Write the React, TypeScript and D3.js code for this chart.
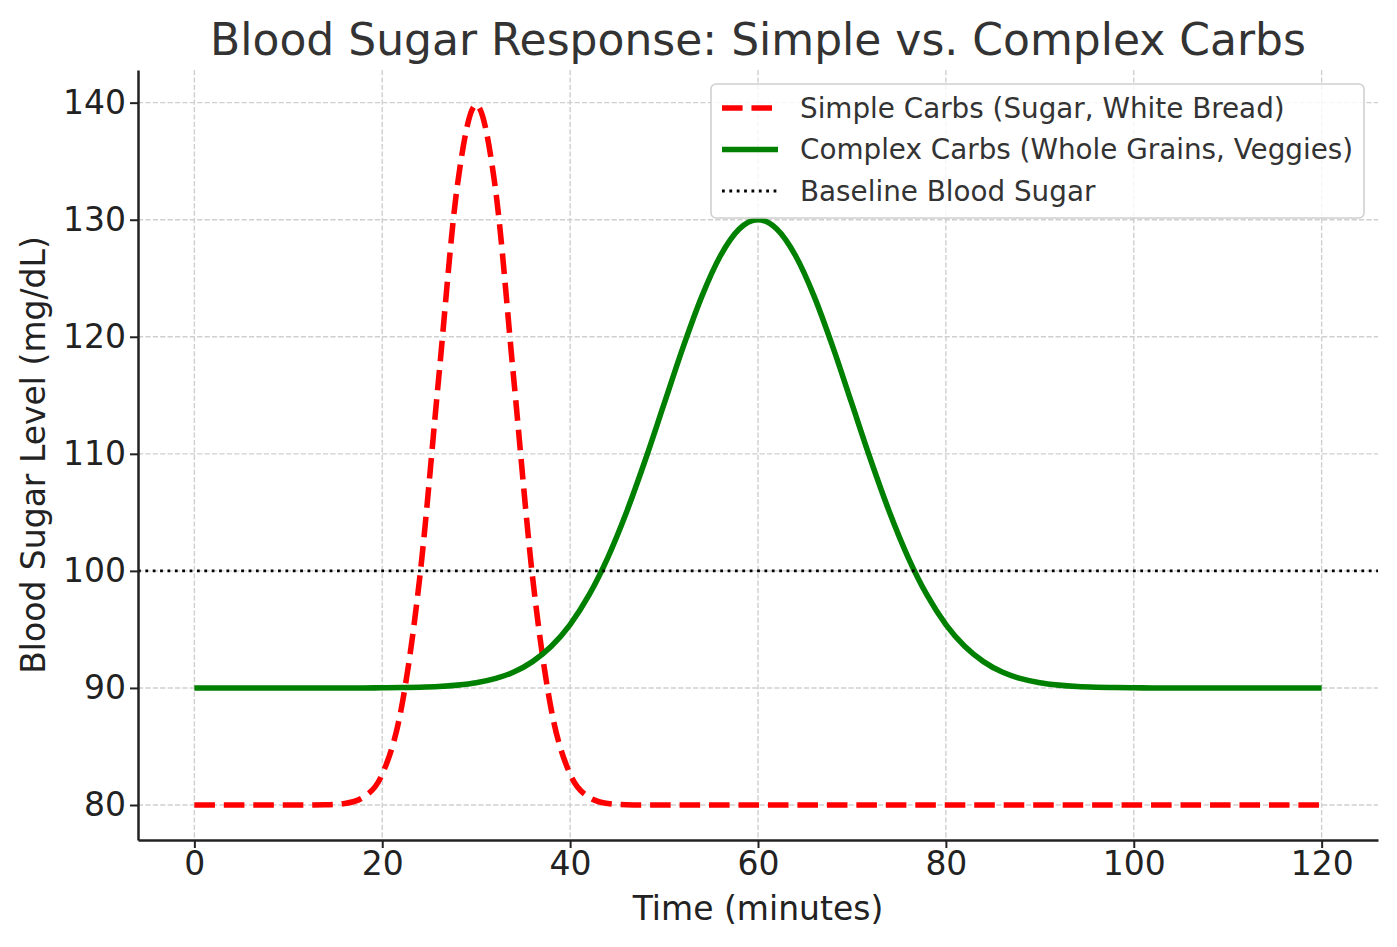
import * as d3 from 'd3';
import React, { useRef, useEffect } from 'react';

// sample times in minutes after eating
const times = d3.range(0, 121, 2);

// blood sugar (mg/dL) at each sample time
const simpleCarbs = [
  80, 80, 80, 80, 80, 80, 80, 80.02, 80.13, 80.67, 82.63, 88.12, 99.48, 116.39, 132.95,
  139.8, 132.95, 116.39, 99.48, 88.12, 82.63, 80.67, 80.13, 80.02, 80, 80, 80, 80, 80, 80,
  80, 80, 80, 80, 80, 80, 80, 80, 80, 80, 80, 80, 80, 80, 80, 80,
  80, 80, 80, 80, 80, 80, 80, 80, 80, 80, 80, 80, 80, 80, 80,
];
const complexCarbs = [
  90, 90, 90, 90, 90, 90, 90, 90, 90, 90, 90.01, 90.03, 90.06, 90.12, 90.24,
  90.44, 90.79, 91.36, 92.25, 93.56, 95.41, 97.92, 101.12, 105.01, 109.47, 114.26, 119.05, 123.41, 126.92, 129.21,
  130, 129.21, 126.92, 123.41, 119.05, 114.26, 109.47, 105.01, 101.12, 97.92, 95.41, 93.56, 92.25, 91.36, 90.79, 90.44,
  90.24, 90.12, 90.06, 90.03, 90.01, 90, 90, 90, 90, 90, 90, 90, 90, 90, 90,
];
const baselineLevel = 100;

const xTicks = [0, 20, 40, 60, 80, 100, 120];
const yTicks = [80, 90, 100, 110, 120, 130, 140];

const legendLabels = [
  'Simple Carbs (Sugar, White Bread)',
  'Complex Carbs (Whole Grains, Veggies)',
  'Baseline Blood Sugar',
];

const width = 1397;
const height = 947;
const margin = { top: 70, right: 19, bottom: 107, left: 138 };
const font = "'DejaVu Sans', sans-serif";

const lw = 5.56; // 2pt line
const styles = [
  { stroke: '#ff0000', width: lw, dash: `${3.7 * lw} ${1.6 * lw}` },
  { stroke: '#008000', width: lw, dash: null },
  { stroke: '#000000', width: 2.78, dash: '2.78 4.59' },
];

function App() {
  const ref = useRef<SVGSVGElement>(null);

  useEffect(() => {
    document.body.style.margin = '0';
    draw();
  }, []); // eslint-disable-line react-hooks/exhaustive-deps

  const draw = () => {
    const svg = d3.select(ref.current);
    svg.selectAll('*').remove();
    svg.attr('width', width).attr('height', height);

    const x0 = margin.left;
    const x1 = width - margin.right;
    const y0 = height - margin.bottom;
    const y1 = margin.top;

    const xPad = (d3.max(times)! - d3.min(times)!) * 0.05;
    const xScale = d3
      .scaleLinear()
      .domain([d3.min(times)! - xPad, d3.max(times)! + xPad])
      .range([x0, x1]);

    const all = simpleCarbs.concat(complexCarbs);
    const yPad = (d3.max(all)! - d3.min(all)!) * 0.05;
    const yScale = d3
      .scaleLinear()
      .domain([d3.min(all)! - yPad, d3.max(all)! + yPad])
      .range([y0, y1]);

    svg.append('rect').attr('width', width).attr('height', height).attr('fill', '#fff');

    // dashed grid
    const grid = svg.append('g').attr('stroke', '#cfcfcf').attr('stroke-width', 1.4).attr('stroke-dasharray', '5.2 2.2');
    grid
      .selectAll('.gx')
      .data(xTicks)
      .enter()
      .append('line')
      .attr('x1', (d) => xScale(d))
      .attr('x2', (d) => xScale(d))
      .attr('y1', y1)
      .attr('y2', y0);
    grid
      .selectAll('.gy')
      .data(yTicks)
      .enter()
      .append('line')
      .attr('x1', x0)
      .attr('x2', x1)
      .attr('y1', (d) => yScale(d))
      .attr('y2', (d) => yScale(d));

    const line = d3
      .line<number>()
      .x((_, i) => xScale(times[i]))
      .y((d) => yScale(d))
      .curve(d3.curveMonotoneX);

    [simpleCarbs, complexCarbs].forEach((values, i) => {
      svg
        .append('path')
        .datum(values)
        .attr('d', line)
        .attr('fill', 'none')
        .attr('stroke', styles[i].stroke)
        .attr('stroke-width', styles[i].width)
        .attr('stroke-dasharray', styles[i].dash)
        .attr('stroke-linejoin', 'round');
    });

    // baseline spans the whole axes
    svg
      .append('line')
      .attr('x1', x0)
      .attr('x2', x1)
      .attr('y1', yScale(baselineLevel))
      .attr('y2', yScale(baselineLevel))
      .attr('stroke', styles[2].stroke)
      .attr('stroke-width', styles[2].width)
      .attr('stroke-dasharray', styles[2].dash);

    const xAxis = d3.axisBottom(xScale).tickValues(xTicks).tickSize(8).tickSizeOuter(0).tickPadding(4);
    const yAxis = d3.axisLeft(yScale).tickValues(yTicks).tickSize(8).tickSizeOuter(0).tickPadding(4);

    const gx = svg.append('g').attr('transform', `translate(0, ${y0})`).call(xAxis);
    const gy = svg.append('g').attr('transform', `translate(${x0}, 0)`).call(yAxis);
    [gx, gy].forEach((g) => {
      g.attr('font-family', font).attr('font-size', 33);
      g.select('.domain').attr('stroke', '#222').attr('stroke-width', 2.5);
      g.selectAll('.tick line').attr('stroke', '#222').attr('stroke-width', 2);
      g.selectAll('.tick text').attr('fill', '#222');
    });

    svg
      .append('text') // x axis label
      .attr('x', (x0 + x1) / 2)
      .attr('y', 920)
      .attr('text-anchor', 'middle')
      .attr('font-family', font)
      .attr('font-size', 33)
      .attr('fill', '#222')
      .text('Time (minutes)');

    svg
      .append('text') // y axis label
      .attr('transform', `translate(45, ${(y0 + y1) / 2}) rotate(-90)`)
      .attr('text-anchor', 'middle')
      .attr('font-family', font)
      .attr('font-size', 33)
      .attr('fill', '#222')
      .text('Blood Sugar Level (mg/dL)');

    svg
      .append('text')
      .attr('x', (x0 + x1) / 2)
      .attr('y', 55)
      .attr('text-anchor', 'middle')
      .attr('font-family', font)
      .attr('font-size', 44)
      .attr('fill', '#333')
      .text('Blood Sugar Response: Simple vs. Complex Carbs');

    // legend
    const legend = svg.append('g').attr('transform', 'translate(711, 84)');
    legend
      .append('rect')
      .attr('width', 653)
      .attr('height', 134)
      .attr('rx', 5)
      .attr('fill', '#fff')
      .attr('fill-opacity', 0.8)
      .attr('stroke', '#d0d0d0')
      .attr('stroke-width', 1.6);

    const rows = legend
      .selectAll('.entry')
      .data(legendLabels)
      .enter()
      .append('g')
      .attr('transform', (_, i) => `translate(0, ${24 + i * 41.5})`);
    rows
      .append('line')
      .attr('x1', 11)
      .attr('x2', 67)
      .attr('stroke', (_, i) => styles[i].stroke)
      .attr('stroke-width', (_, i) => styles[i].width)
      .attr('stroke-dasharray', (_, i) => styles[i].dash);
    rows
      .append('text')
      .attr('x', 89)
      .attr('dy', '0.35em')
      .attr('font-family', font)
      .attr('font-size', 27.8)
      .attr('fill', '#333')
      .text((d) => d);
  };

  return (
    <div className="chart">
      <svg ref={ref} style={{ display: 'block' }} />
    </div>
  );
}

export default App;
